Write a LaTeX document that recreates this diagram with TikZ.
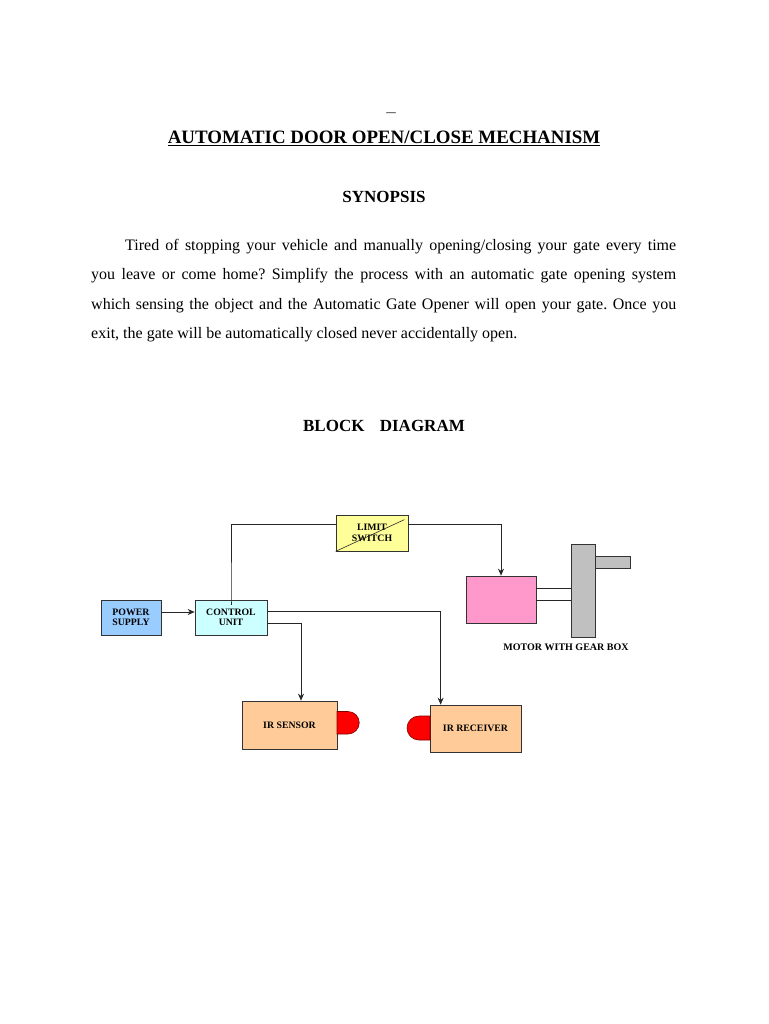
\documentclass[tikz,border=0pt]{standalone}
\usepackage{fontspec}
\setmainfont{Liberation Serif}
\usetikzlibrary{arrows.meta}
\begin{document}
\begin{tikzpicture}[x=1pt,y=-1pt,
  blk/.style={draw=black!80, line width=0.7pt, font=\fontsize{9.8}{10.5}\selectfont\bfseries, align=center, inner sep=0pt},
  conn/.style={draw=black!85, line width=0.7pt},
  arr/.style={conn, -{Stealth[length=7pt,width=6pt]}},
  bump/.style={fill=red, draw=red!50!black, line width=0.6pt}
]
\useasboundingbox (0,0) rectangle (768,1024);
\fill[white] (0,0) rectangle (768,1024);

% headings
\node[font=\fontsize{9.5}{10}\selectfont\bfseries, anchor=base] (dash) at (391,116) {—};
\node[font=\fontsize{18.9}{20}\selectfont\bfseries, anchor=base] (title) at (384,144) {\underline{AUTOMATIC DOOR OPEN/CLOSE MECHANISM}};
\node[font=\fontsize{17}{18}\selectfont\bfseries, anchor=base] (syn) at (384,203) {SYNOPSIS};
\node[font=\fontsize{16}{29.5}\selectfont, anchor=base west, text width=585pt, align=justify, inner sep=0pt] (para) at (91,250)
 {\frenchspacing\hspace*{34pt}Tired of stopping your vehicle and manually opening/closing your gate every time\linebreak
 you leave or come home? Simplify the process with an automatic gate opening system\linebreak
 which sensing the object and the Automatic Gate Opener will open your gate. Once you\linebreak
 exit, the gate will be automatically closed never accidentally open.};
\node[font=\fontsize{17}{18}\selectfont\bfseries, anchor=base] (bd) at (384,431) {BLOCK\hspace{0.9em}DIAGRAM};

% blocks
\node[blk, fill={rgb,255:red,153;green,204;blue,255}, minimum width=60pt, minimum height=35pt] (power) at (131,617.5) {POWER\\SUPPLY};
\node[blk, fill={rgb,255:red,204;green,255;blue,255}, minimum width=72pt, minimum height=35pt] (ctrl) at (231,617.5) {CONTROL\\UNIT};
\node[blk, fill={rgb,255:red,255;green,255;blue,153}, minimum width=72pt, minimum height=36pt] (limit) at (372,533) {LIMIT\\SWITCH};
\draw[black!85, line width=0.6pt] (limit.south west) -- ([xshift=-4pt,yshift=-5pt]limit.north east);
\node[blk, fill={rgb,255:red,255;green,153;blue,204}, minimum width=70pt, minimum height=47pt] (motor) at (501,599.5) {};
\node[blk, fill={rgb,255:red,192;green,192;blue,192}, minimum width=24pt, minimum height=93pt] (gear) at (583,590.5) {};
\node[blk, fill={rgb,255:red,192;green,192;blue,192}, minimum width=35pt, minimum height=12pt, anchor=west] (shaft) at (gear.east |- 0,562) {};
\node[font=\fontsize{10}{11}\selectfont\bfseries, anchor=base] (mlabel) at (566,650) {MOTOR WITH GEAR BOX};

\node[blk, fill={rgb,255:red,255;green,204;blue,153}, minimum width=95pt, minimum height=48pt] (sensor) at (289.5,725) {IR SENSOR};
\node[blk, fill={rgb,255:red,255;green,204;blue,153}, minimum width=91pt, minimum height=47pt] (recv) at (475.5,728.5) {IR RECEIVER};

% red bumps
\draw[bump] (337,711.5) -- (348,711.5) arc (90:-90:11.25pt) -- (337,734) -- cycle;
\draw[bump] (430,716) -- (419,716) arc (90:270:12pt) -- (430,740) -- cycle;

% connectors
\draw[arr] ([yshift=5.5pt]power.east) -- ([yshift=5.5pt]ctrl.west);
\draw[conn] ([yshift=-5pt]ctrl.north) -- (ctrl.north) |- ([yshift=9pt]limit.west);
\draw[arr] ([yshift=9pt]limit.east) -| (motor.north);
\draw[arr] ([yshift=6.5pt]ctrl.east) -| ([xshift=11pt]recv.north west);
\draw[arr] ([yshift=-5.5pt]ctrl.east) -| ([xshift=11.5pt]sensor.north);
\draw[conn] ([yshift=11.5pt]motor.east) -- ([yshift=11.5pt]motor.east -| gear.west);
\draw[conn] ([yshift=-0.5pt]motor.east) -- ([yshift=-0.5pt]motor.east -| gear.west);
\end{tikzpicture}
\end{document}
